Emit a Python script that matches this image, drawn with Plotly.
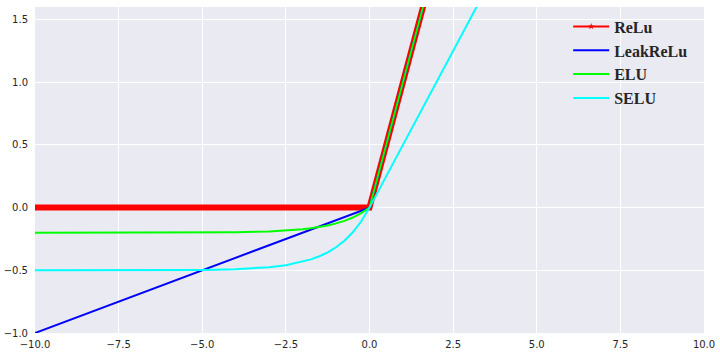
import plotly.graph_objects as go

# Values
relu_x = [-10.0, 0.0, 10.0]
relu_y = [0.0, 0.0, 10.0]

leaky_x = [-10.0, 0.0, 10.0]
leaky_y = [-1.0, 0.0, 10.0]

elu_x = [-10.0, -6.0, -5.0, -4.0, -3.0, -2.5, -2.0, -1.75, -1.5, -1.25, -1.0, -0.75, -0.5, -0.25, 0.0, 10.0]
elu_y = [-0.200, -0.200, -0.199, -0.196, -0.190, -0.184, -0.173, -0.165, -0.155, -0.143, -0.126, -0.106, -0.079, -0.044, 0.0, 10.0]

selu_x = [-10.0, -6.0, -5.0, -4.0, -3.0, -2.5, -2.0, -1.75, -1.5, -1.25, -1.0, -0.75, -0.5, -0.25, 0.0, 10.0]
selu_y = [-0.500, -0.499, -0.497, -0.491, -0.475, -0.459, -0.432, -0.413, -0.388, -0.357, -0.316, -0.264, -0.197, -0.111, 0.0, 5.0]

x_ticks = [-10.0, -7.5, -5.0, -2.5, 0.0, 2.5, 5.0, 7.5, 10.0]
y_ticks = [-1.0, -0.5, 0.0, 0.5, 1.0, 1.5]

fig = go.Figure()

# thick red band made by the dense star markers of the ReLu series
fig.add_trace(go.Scatter(x=relu_x, y=relu_y, mode="lines",
                         line=dict(color="#ff0000", width=6),
                         showlegend=False, hoverinfo="skip"))
fig.add_trace(go.Scatter(x=relu_x, y=relu_y, mode="lines+markers", name="ReLu",
                         line=dict(color="#ff0000", width=2),
                         marker=dict(symbol="star", size=5, color="#ff0000")))
fig.add_trace(go.Scatter(x=leaky_x, y=leaky_y, mode="lines", name="LeakReLu",
                         line=dict(color="#0000ff", width=2)))
fig.add_trace(go.Scatter(x=elu_x, y=elu_y, mode="lines", name="ELU",
                         line=dict(color="#00ff00", width=2)))
fig.add_trace(go.Scatter(x=selu_x, y=selu_y, mode="lines", name="SELU",
                         line=dict(color="#00ffff", width=2)))

tickfont = dict(family="DejaVu Sans, sans-serif", size=10, color="#262626")

fig.update_layout(
    width=720, height=356,
    margin=dict(l=35, r=16, t=7, b=23, autoexpand=False),
    paper_bgcolor="white",
    plot_bgcolor="#EAEAF2",
    xaxis=dict(range=[-10, 10], tickvals=x_ticks, tickformat=".1f",
               showgrid=True, gridcolor="white", gridwidth=1,
               zeroline=False, showline=False, ticks="", tickfont=tickfont,
               ticklabelstandoff=4, automargin=False, fixedrange=True),
    yaxis=dict(range=[-1.0, 1.6], tickvals=y_ticks, tickformat=".1f",
               showgrid=True, gridcolor="white", gridwidth=1,
               zeroline=False, showline=False, ticks="", tickfont=tickfont,
               ticklabelstandoff=6, automargin=False, fixedrange=True),
    legend=dict(x=0.797, y=0.992, xanchor="left", yanchor="top",
                bgcolor="rgba(0,0,0,0)",
                font=dict(family="Liberation Serif, Times New Roman, serif",
                          size=16, color="#262626", weight="bold"),
                tracegroupgap=0, itemwidth=36),
    showlegend=True,
)

fig.write_html("out.html")
